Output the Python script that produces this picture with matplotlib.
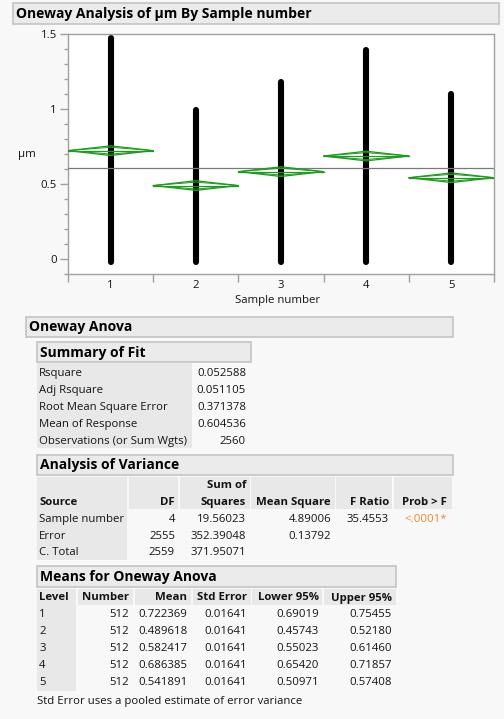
import matplotlib
matplotlib.use("Agg")
import matplotlib.pyplot as plt
from matplotlib.patches import Rectangle, Polygon

plt.rcParams['font.family'] = ['Open Sans', 'DejaVu Sans']

levels = ['1', '2', '3', '4', '5']
numbers = [512, 512, 512, 512, 512]
means = [0.722369, 0.489618, 0.582417, 0.686385, 0.541891]
std_err = [0.01641, 0.01641, 0.01641, 0.01641, 0.01641]
lower95 = [0.69019, 0.45743, 0.55023, 0.65420, 0.50971]
upper95 = [0.75455, 0.52180, 0.61460, 0.71857, 0.57408]
data_min = [-0.02, -0.02, -0.02, -0.02, -0.02]
data_max = [1.47, 0.99, 1.18, 1.39, 1.10]
grand_mean = 0.604536

fit_labels = ['Rsquare', 'Adj Rsquare', 'Root Mean Square Error', 'Mean of Response',
              'Observations (or Sum Wgts)']
fit_values = ['0.052588', '0.051105', '0.371378', '0.604536', '2560']

anova_source = ['Sample number', 'Error', 'C. Total']
anova_df = ['4', '2555', '2559']
anova_ss = ['19.56023', '352.39048', '371.95071']
anova_ms = ['4.89006', '0.13792', '']
anova_f = ['35.4553', '', '']
anova_p = ['<.0001*', '', '']

BG = '#f8f8f8'
HEAD = '#ebebeb'
CELL = '#e8e8e8'
EDGE = '#c4c4c4'
TXT = '#141414'
FS = 8.2
HFS = 10

fig = plt.figure(figsize=(5.04, 7.19), dpi=100, facecolor=BG)

# background axes in pixel coordinates for the report boxes
bg = fig.add_axes([0, 0, 1, 1], zorder=0)
bg.set_xlim(0, 504)
bg.set_ylim(719, 0)
bg.axis('off')


def header(x0, x1, y0, y1, text):
    bg.add_patch(Rectangle((x0, y0), x1 - x0, y1 - y0, facecolor=HEAD, edgecolor=EDGE, lw=1.2))
    bg.text(x0 + 3, (y0 + y1) / 2 + 0.5, text, fontsize=HFS, fontweight='bold', color='black',
            va='center', ha='left')


def cell(x0, x1, y0, y1):
    bg.add_patch(Rectangle((x0, y0), x1 - x0, y1 - y0, facecolor=CELL, edgecolor='none'))


def txt(x, y, s, ha='left', bold=False, color=TXT):
    bg.text(x, y, s, fontsize=FS, ha=ha, va='center', color=color,
            fontweight='bold' if bold else 'normal')


header(13, 499, 3, 24, 'Oneway Analysis of μm By Sample number')

# plot
ax = fig.add_axes([68 / 504, 1 - 274 / 719, (494 - 68) / 504, (274 - 34) / 719], zorder=1)
ax.set_facecolor('white')
x = [i + 1 for i in range(len(levels))]
for i in range(len(levels)):
    ax.plot([x[i], x[i]], [data_min[i], data_max[i]], color='black', lw=4.4,
            solid_capstyle='round', zorder=2)
ax.axhline(grand_mean, color='#7a7a7a', lw=0.9, zorder=3)
green = '#1e9a1e'
for i in range(len(levels)):
    c = x[i]
    m = means[i]
    h = upper95[i] - m
    ax.add_patch(Polygon([(c - 0.5, m), (c, upper95[i]), (c + 0.5, m), (c, lower95[i])],
                         closed=True, fill=False, edgecolor=green, lw=0.9, zorder=4))
    ax.plot([c - 0.5, c + 0.5], [m, m], color=green, lw=0.9, zorder=4)
    o = h / 2 ** 0.5
    ax.plot([c - 0.5, c, c + 0.5], [m, m + o, m], color=green, lw=0.7, zorder=4)
    ax.plot([c - 0.5, c, c + 0.5], [m, m - o, m], color=green, lw=0.7, zorder=4)

ax.set_xlim(0.5, 5.5)
ax.set_ylim(-0.1, 1.5)
ax.set_xticks(x)
ax.set_xticklabels(levels)
ax.set_xticks([0.5, 1.5, 2.5, 3.5, 4.5, 5.5], minor=True)
ax.set_yticks([0, 0.5, 1, 1.5])
ax.set_yticklabels(['0', '0.5', '1', '1.5'])
ax.set_yticks([v / 10 for v in range(-1, 15)], minor=True)
ax.tick_params(axis='x', which='major', length=0, pad=4, labelsize=FS, labelcolor=TXT)
ax.tick_params(axis='x', which='minor', length=6, width=1, color='#a0a0a0')
ax.tick_params(axis='y', which='major', length=6, width=1, color='#a0a0a0', pad=2,
               labelsize=FS, labelcolor=TXT)
ax.tick_params(axis='y', which='minor', length=3, width=1, color='#a0a0a0')
for s in ax.spines.values():
    s.set_color('#a0a0a0')
    s.set_linewidth(1)
bg.text(18, 154, 'μm', fontsize=FS, ha='left', va='center', color=TXT)
bg.text(278, 300.5, 'Sample number', fontsize=FS, ha='center', va='center', color=TXT)

# Oneway Anova
header(26, 453, 317, 337, 'Oneway Anova')

# Summary of Fit
header(37, 251, 342, 362, 'Summary of Fit')
cell(37, 192, 363, 448)
for i in range(len(fit_labels)):
    y = 373.2 + i * 17
    txt(39, y, fit_labels[i])
    txt(246, y, fit_values[i], ha='right')

# Analysis of Variance
header(37, 453, 455, 475, 'Analysis of Variance')
anova_cols = [(37, 127), (128.5, 178), (179.5, 249.5), (251, 334.5), (336, 392), (393.5, 452)]
for c0, c1 in anova_cols:
    cell(c0, c1, 476.5, 509)
cell(37, 127, 509, 560)
txt(39, 502.5, 'Source', bold=True)
txt(175, 502.5, 'DF', ha='right', bold=True)
txt(246, 486, 'Sum of', ha='right', bold=True)
txt(246, 502.5, 'Squares', ha='right', bold=True)
txt(331, 502.5, 'Mean Square', ha='right', bold=True)
txt(389, 502.5, 'F Ratio', ha='right', bold=True)
txt(447, 502.5, 'Prob > F', ha='right', bold=True)
for i in range(len(anova_source)):
    y = 519.5 + i * 16.7
    txt(39, y, anova_source[i])
    txt(175, y, anova_df[i], ha='right')
    txt(246, y, anova_ss[i], ha='right')
    txt(331, y, anova_ms[i], ha='right')
    txt(389, y, anova_f[i], ha='right')
    txt(447, y, anova_p[i], ha='right', color='#f0882a')

# Means for Oneway Anova
header(37, 396, 566, 587, 'Means for Oneway Anova')
means_cols = [(37, 76), (77.5, 133), (134.5, 191), (192.5, 250.5), (252, 322), (323.5, 396)]
for c0, c1 in means_cols:
    cell(c0, c1, 589, 605)
cell(37, 76, 605, 691)
txt(39, 598, 'Level', bold=True)
txt(129, 598, 'Number', ha='right', bold=True)
txt(187.5, 598, 'Mean', ha='right', bold=True)
txt(247, 598, 'Std Error', ha='right', bold=True)
txt(319, 598, 'Lower 95%', ha='right', bold=True)
txt(392, 598, 'Upper 95%', ha='right', bold=True)
for i in range(len(levels)):
    y = 614.8 + i * 17
    txt(39, y, levels[i])
    txt(129, y, str(numbers[i]), ha='right')
    txt(187.5, y, '%.6f' % means[i], ha='right')
    txt(247, y, '%.5f' % std_err[i], ha='right')
    txt(319, y, '%.5f' % lower95[i], ha='right')
    txt(392, y, '%.5f' % upper95[i], ha='right')
txt(37, 701.5, 'Std Error uses a pooled estimate of error variance')

fig.savefig('out.png', dpi=100, facecolor=BG)
